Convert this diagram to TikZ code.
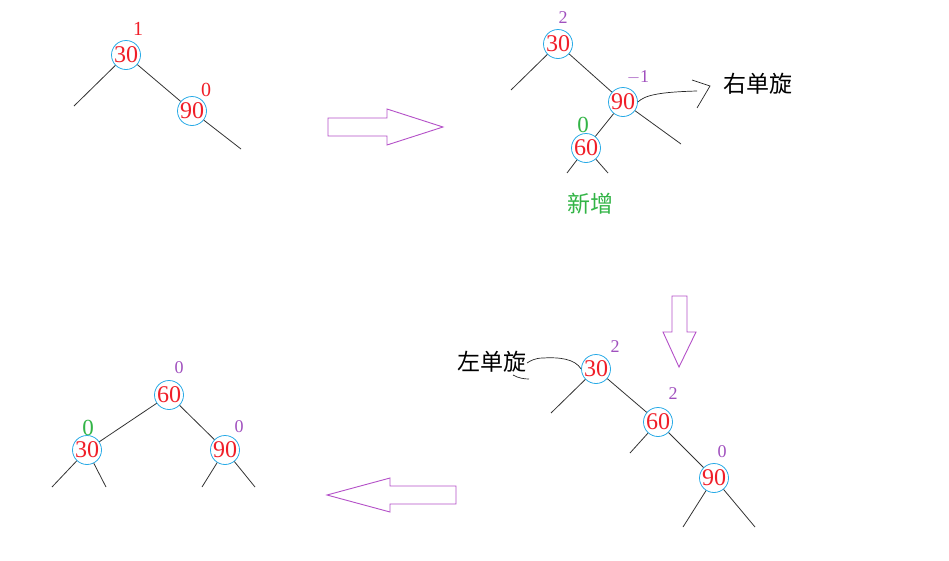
\documentclass[tikz,border=0pt]{standalone}
\usepackage{fontspec}
\setmainfont{Liberation Serif}
\newfontfamily\cjk{Noto Sans CJK SC}
\definecolor{circblue}{RGB}{40,170,230}
\definecolor{numred}{RGB}{240,30,40}
\definecolor{bfpurple}{RGB}{160,80,190}
\definecolor{bfgreen}{RGB}{50,180,70}
\definecolor{arrpurple}{RGB}{180,80,200}
\tikzset{
  tnode/.style={circle,draw=circblue,line width=0.8pt,minimum size=29pt,inner sep=0pt,text=numred,font=\fontsize{24}{24}\selectfont},
  edge/.style={draw=black!80,line width=0.8pt},
  bfred/.style={text=numred,font=\fontsize{20}{20}\selectfont,inner sep=0pt},
  bfpur/.style={text=bfpurple,font=\fontsize{18}{18}\selectfont,inner sep=0pt},
  bfgrn/.style={text=bfgreen,font=\fontsize{23}{23}\selectfont,inner sep=0pt},
  fatarrow/.style={draw=arrpurple,line width=0.9pt,fill=white},
  lab/.style={font=\cjk\fontsize{23}{23}\selectfont,inner sep=0pt},
  curl/.style={draw=black!85,line width=0.7pt}
}
\begin{document}
\begin{tikzpicture}[x=1pt,y=-1pt]
\useasboundingbox (0,0) rectangle (949,560);
% ---------- Tree 1 ----------
\node[tnode] (a30) at (126,55) {30};
\node[tnode] (a90) at (192,111) {90};
\node[bfred] (a30bf) at (138,29) {1};
\node[bfred] (a90bf) at (206,90) {0};
\coordinate (a30l) at (74,106);
\coordinate (a90r) at (241,149);
\draw[edge] (a30) -- (a30l);
\draw[edge] (a30) -- (a90);
\draw[edge] (a90) -- (a90r);
% right arrow
\draw[fatarrow] (328,118) -- (387,118) -- (387,109) -- (443,127) -- (387,145) -- (387,136) -- (328,136) -- cycle;
% ---------- Tree 2 ----------
\node[tnode] (b30) at (558,44) {30};
\node[tnode] (b90) at (623,102) {90};
\node[tnode] (b60) at (586,148) {60};
\node[bfpur] (b30bf) at (563,18) {2};
\node[bfpur] (b90bf) at (638,77) {$-$1};
\node[bfgrn] (b60bf) at (583,125) {0};
\coordinate (b30l) at (511,90);
\coordinate (b90r) at (681,144);
\coordinate (b60l) at (567,173);
\coordinate (b60r) at (608,173);
\draw[edge] (b30) -- (b30l);
\draw[edge] (b30) -- (b90);
\draw[edge] (b90) -- (b90r);
\draw[edge] (b90) -- (b60);
\draw[edge] (b60) -- (b60l);
\draw[edge] (b60) -- (b60r);
\node[lab,text=bfgreen] (xinzeng) at (590,204) {新增};
\node[lab] (youdan) at (758,84) {右单旋};
\coordinate (rc1) at (697,91);
\draw[curl] (b90.east) .. controls (645,95) and (660,92) .. (rc1);
\draw[curl] (692,80) -- (710,86) -- (697,108);
% down arrow
\draw[fatarrow] (672,296) -- (687,296) -- (687,332) -- (696,332) -- (679,367) -- (663,332) -- (672,332) -- cycle;
% ---------- Tree 3 ----------
\node[tnode] (c30) at (596,369) {30};
\node[tnode] (c60) at (658,422) {60};
\node[tnode] (c90) at (714,478) {90};
\node[bfpur] (c30bf) at (615,347) {2};
\node[bfpur] (c60bf) at (673,394) {2};
\node[bfpur] (c90bf) at (722,452) {0};
\coordinate (c30l) at (551,413);
\coordinate (c60l) at (630,453);
\coordinate (c90l) at (683,527);
\coordinate (c90r) at (755,527);
\draw[edge] (c30) -- (c30l);
\draw[edge] (c30) -- (c60);
\draw[edge] (c60) -- (c60l);
\draw[edge] (c60) -- (c90);
\draw[edge] (c90) -- (c90l);
\draw[edge] (c90) -- (c90r);
\node[lab] (zuodan) at (492,362) {左单旋};
\coordinate (lc1) at (527,363);
\draw[curl] (c30.west) .. controls (575,359) and (560,357) .. (543,358) .. controls (535,358) and (530,361) .. (lc1);
\draw[curl] (513,375) .. controls (518,378) and (524,379) .. (529,379);
% left arrow
\draw[fatarrow] (456,486) -- (390,486) -- (390,478) -- (327,495) -- (390,512) -- (390,504) -- (456,504) -- cycle;
% ---------- Tree 4 ----------
\node[tnode] (d60) at (169,395) {60};
\node[tnode] (d30) at (87,450) {30};
\node[tnode] (d90) at (225,450) {90};
\node[bfpur] (d60bf) at (179,368) {0};
\node[bfgrn] (d30bf) at (88,428) {0};
\node[bfpur] (d90bf) at (239,427) {0};
\coordinate (d30l) at (52,487);
\coordinate (d30r) at (106,487);
\coordinate (d90l) at (202,487);
\coordinate (d90r) at (255,487);
\draw[edge] (d60) -- (d30);
\draw[edge] (d60) -- (d90);
\draw[edge] (d30) -- (d30l);
\draw[edge] (d30) -- (d30r);
\draw[edge] (d90) -- (d90l);
\draw[edge] (d90) -- (d90r);
\end{tikzpicture}
\end{document}
